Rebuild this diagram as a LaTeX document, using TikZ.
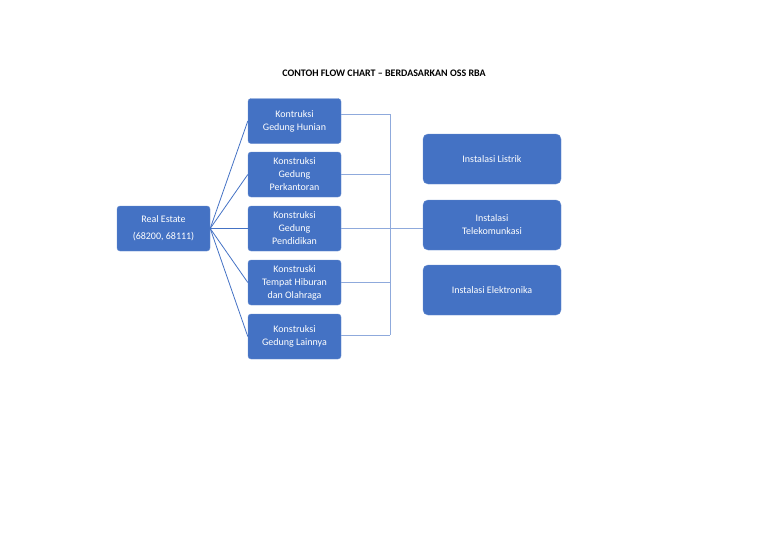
\documentclass[tikz,border=0pt]{standalone}
\usepackage{fontspec}
\setmainfont{Carlito}
\definecolor{bx}{HTML}{4472C4}
\definecolor{ln}{HTML}{8FAADC}
\begin{document}
\begin{tikzpicture}[x=1pt,y=-1pt,
  box/.style={draw=bx!80!white,fill=bx,rounded corners=3pt,text=white,align=center,font=\fontsize{10}{13}\selectfont,inner sep=0pt},
  mid/.style={box,minimum width=93pt,minimum height=45pt},
  rgt/.style={box,minimum width=138pt,minimum height=50pt,rounded corners=5pt},
  fan/.style={draw=bx,line width=0.8pt},
  brk/.style={draw=ln,line width=0.6pt}]
\useasboundingbox (0,0) rectangle (768,543);
\node[font=\bfseries\fontsize{10}{12}\selectfont] (title) at (384,73) {CONTOH FLOW CHART -- BERDASARKAN OSS RBA};
\node[box,minimum width=93pt,minimum height=45pt,font=\fontsize{10}{17}\selectfont] (re) at (163.5,228.5) {Real Estate\\(68200, 68111)};
\node[mid] (m1) at (294.5,121) {Kontruksi\\Gedung Hunian};
\node[mid] (m2) at (294.5,174.5) {Konstruksi\\Gedung\\Perkantoran};
\node[mid] (m3) at (294.5,228.5) {Konstruksi\\Gedung\\Pendidikan};
\node[mid] (m4) at (294.5,282.5) {Konstruski\\Tempat Hiburan\\dan Olahraga};
\node[mid] (m5) at (294.5,336.5) {Konstruksi\\Gedung Lainnya};
\node[rgt] (r1) at (492,159) {Instalasi Listrik};
\node[rgt] (r2) at (492,225) {Instalasi\\Telekomunkasi};
\node[rgt] (r3) at (492,290) {Instalasi Elektronika};
\foreach \m in {m1,m2,m3,m4,m5} \draw[fan] (re.east) -- (\m.west);
\coordinate (bt) at (390,114);
\coordinate (bb) at (390,335);
\draw[brk] (bt) -- (bb);
\draw[brk] (m1.east |- bt) -- (bt);
\draw[brk] (m2.east) -- (m2.east -| bt);
\draw[brk] (m3.east) -- (r2.west |- m3.east);
\draw[brk] (m4.east) -- (m4.east -| bt);
\draw[brk] (m5.east |- bb) -- (bb);
\end{tikzpicture}
\end{document}
